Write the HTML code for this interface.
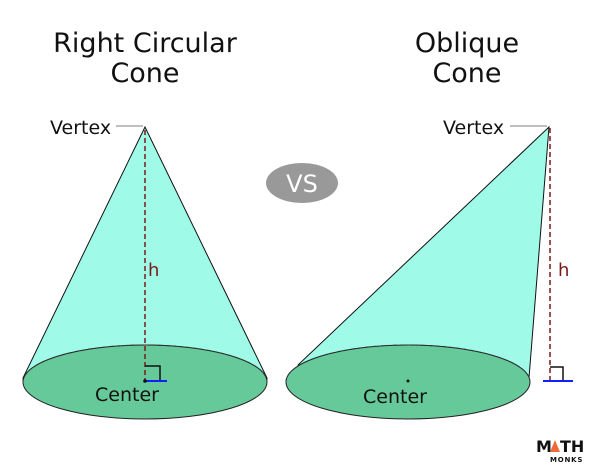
<!DOCTYPE html>
<html><head><style>body{margin:0;background:#fff}svg{display:block}text{font-family:"DejaVu Sans","Liberation Sans",sans-serif}</style></head><body>
<svg width="600" height="476" viewBox="0 0 600 476">
<text x="145" y="52" font-size="27" text-anchor="middle" fill="#111">Right Circular</text>
<text x="145" y="82" font-size="27" text-anchor="middle" fill="#111">Cone</text>
<text x="467" y="52" font-size="27" text-anchor="middle" fill="#111">Oblique</text>
<text x="467" y="82" font-size="27" text-anchor="middle" fill="#111">Cone</text>
<path d="M145,127 L23,378 A122,37 0 0 0 267,378 Z" fill="#9ffbe8" stroke="#111" stroke-width="1"/>
<ellipse cx="145" cy="382" rx="122" ry="37" fill="#65c99a" stroke="#222" stroke-width="1"/>
<path d="M23,382 A122,37 0 0 1 267,382" fill="none" stroke="#333" stroke-dasharray="4,3" stroke-width="1"/>
<line x1="145" y1="130" x2="145" y2="381" stroke="#7a1a1a" stroke-width="1.5" stroke-dasharray="5,3"/>
<polyline points="145,366 160,366 160,381" fill="none" stroke="#111" stroke-width="1.5"/>
<line x1="145" y1="381" x2="167" y2="381" stroke="#1020ff" stroke-width="2"/>
<circle cx="145" cy="381" r="1.8" fill="#111"/>
<text x="148" y="276" font-size="18" fill="#7a1a1a">h</text>
<text x="127" y="401" font-size="19" text-anchor="middle" fill="#111">Center</text>
<text x="50" y="134" font-size="19" fill="#111">Vertex</text>
<line x1="116" y1="126" x2="143" y2="126" stroke="#aaa" stroke-width="1.5"/>
<ellipse cx="302" cy="183" rx="36" ry="20" fill="#999"/>
<text x="302" y="192" font-size="24" text-anchor="middle" fill="#fff">VS</text>
<path d="M549,127 L298,365 A122,37 0 0 0 529,378 Z" fill="#9ffbe8" stroke="#111" stroke-width="1"/>
<ellipse cx="408" cy="382" rx="122" ry="37" fill="#65c99a" stroke="#222" stroke-width="1"/>
<path d="M286,382 A122,37 0 0 1 530,382" fill="none" stroke="#333" stroke-dasharray="4,3" stroke-width="1"/>
<line x1="550" y1="128" x2="550" y2="381" stroke="#7a1a1a" stroke-width="1.5" stroke-dasharray="5,3"/>
<polyline points="550,367 563,367 563,381" fill="none" stroke="#111" stroke-width="1.5"/>
<line x1="543" y1="381" x2="573" y2="381" stroke="#1020ff" stroke-width="2"/>
<circle cx="408" cy="381" r="1.5" fill="#111"/>
<text x="558" y="276" font-size="18" fill="#7a1a1a">h</text>
<text x="395" y="403" font-size="19" text-anchor="middle" fill="#111">Center</text>
<text x="443" y="134" font-size="19" fill="#111">Vertex</text>
<line x1="510" y1="126" x2="547" y2="126" stroke="#aaa" stroke-width="1.5"/>
<text x="536" y="452" font-size="16" font-weight="bold" fill="#111" font-family="Liberation Sans">M</text>
<polygon points="550,452 555,440 560,452" fill="#ee6a3a"/>
<text x="560" y="452" font-size="16" font-weight="bold" fill="#111" font-family="Liberation Sans">TH</text>
<text x="550" y="462" font-size="7" font-weight="bold" fill="#111" letter-spacing="0.8" font-family="Liberation Sans">MONKS</text>
</svg>
</body></html>
